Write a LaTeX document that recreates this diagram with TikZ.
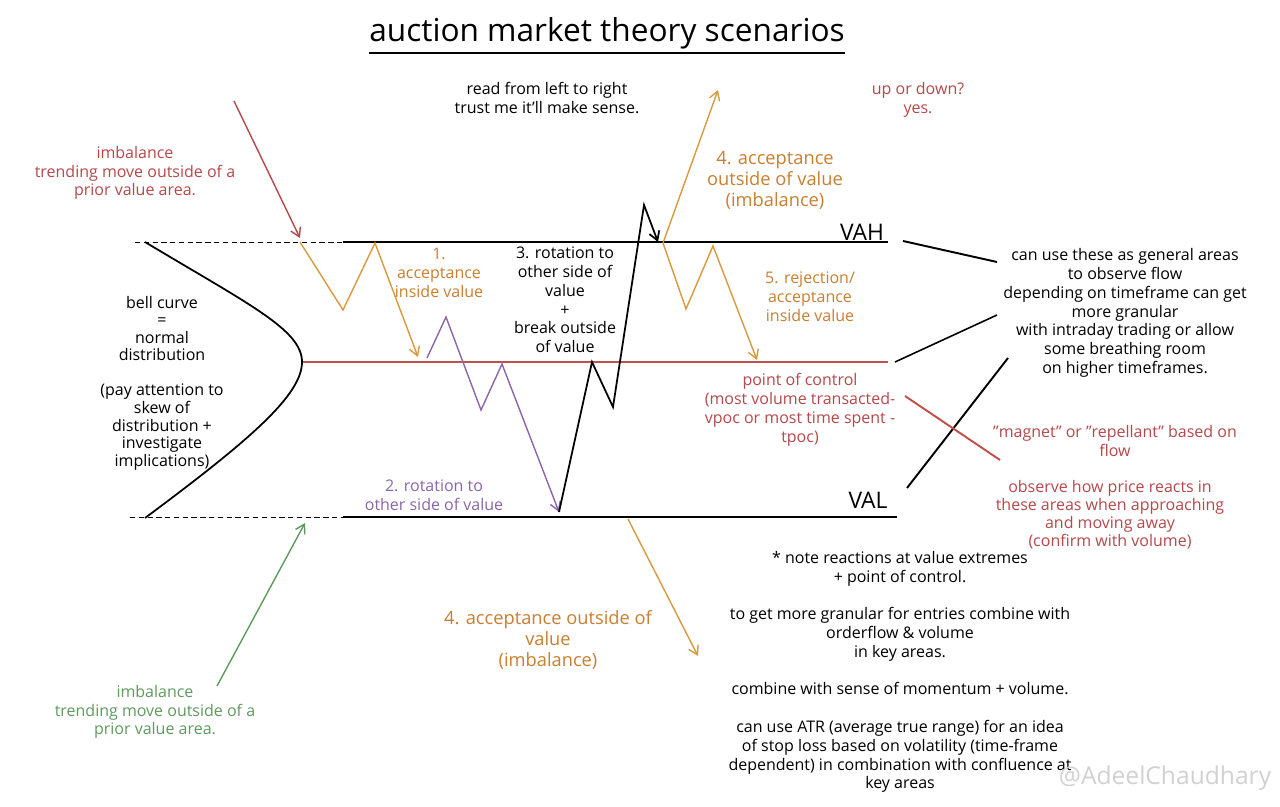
\documentclass[tikz,border=0pt]{standalone}
\usepackage{fontspec}
\setmainfont{Open Sans}
\usetikzlibrary{arrows.meta}
\definecolor{amtorange}{HTML}{D99A3E}
\definecolor{amtorangetxt}{HTML}{C97E30}
\definecolor{amtred}{HTML}{B5484A}
\definecolor{amtredline}{HTML}{C2504A}
\definecolor{amtpurple}{HTML}{8A66A8}
\definecolor{amtgreen}{HTML}{5E9A5E}
\tikzset{txt/.style={align=center,inner sep=0pt,font=\fontsize{9.1}{10.7}\selectfont},
	bigtxt/.style={align=center,inner sep=0pt,font=\fontsize{10.4}{12}\selectfont},
	arr/.style={-{Straight Barb[length=5pt,width=6pt]}},
	level/.style={line width=1.1pt},
	zig/.style={line width=0.8pt}}

\begin{document}
\begin{tikzpicture}[x=0.02cm,y=-0.02cm]
	\useasboundingbox (0,0) rectangle (1280,807);

	% title
	\node[inner sep=0pt,font=\fontsize{18}{21}\selectfont] (title) at (607,33) {auction market theory scenarios};
	\draw[line width=1.2pt] ([yshift=-2pt]title.south west) -- ([yshift=-2pt]title.south east);

	% value area levels
	\coordinate (vahL) at (135,242);
	\coordinate (vahM) at (343,242);
	\coordinate (vahR) at (888,242);
	\coordinate (valL) at (130,517);
	\coordinate (valM) at (343,517);
	\coordinate (valR) at (897,517);
	\coordinate (pocL) at (302,362);
	\coordinate (pocR) at (888,362);
	\coordinate (bellT) at (145,242);
	\coordinate (bellB) at (145,518);

	\draw[dash pattern=on 3pt off 2pt] (vahL) -- (vahM);
	\draw[level] (vahM) -- (vahR);
	\draw[dash pattern=on 3pt off 2pt] (valL) -- (valM);
	\draw[level] (valM) -- (valR);
	\draw[level,amtredline] (pocL) -- (pocR);
	\draw[line width=1pt] (bellT) .. controls (250,305) and (302,330) .. (pocL)
		.. controls (302,395) and (250,440) .. (bellB);

	\node[inner sep=0pt,font=\fontsize{13}{15}\selectfont] (vah) at (862,232) {VAH};
	\node[inner sep=0pt,font=\fontsize{13}{15}\selectfont] (val) at (868,500) {VAL};

	% price path
	\coordinate (a1) at (300,242);
	\coordinate (a2) at (343,310);
	\coordinate (a3) at (375,243);
	\coordinate (a4) at (418,357);
	\coordinate (p1) at (427,358);
	\coordinate (p2) at (446,317);
	\coordinate (p3) at (481,410);
	\coordinate (p4) at (502,364);
	\coordinate (p5) at (559,512);
	\coordinate (b2) at (592,362);
	\coordinate (b3) at (613,407);
	\coordinate (b4) at (644,205);
	\coordinate (b5) at (658,242);
	\coordinate (u1) at (663,243);
	\coordinate (u2) at (718,90);
	\coordinate (r2) at (686,309);
	\coordinate (r3) at (713,246);
	\coordinate (r4) at (757,360);
	\coordinate (d1) at (628,519);
	\coordinate (d2) at (698,656);

	\draw[zig,amtorange,arr] (a1) -- (a2) -- (a3) -- (a4);
	\draw[zig,amtpurple,arr] (p1) -- (p2) -- (p3) -- (p4) -- (p5);
	\draw[line width=1pt,arr] (p5) -- (b2) -- (b3) -- (b4) -- (b5);
	\draw[zig,amtorange,arr] (u1) -- (u2);
	\draw[zig,amtorange,arr] (u1) -- (r2) -- (r3) -- (r4);
	\draw[zig,amtorange,arr] (d1) -- (d2);

	% imbalance arrows
	\coordinate (ra) at (234,101);
	\coordinate (rb) at (300,238);
	\coordinate (ga) at (217,686);
	\coordinate (gb) at (305,523);
	\draw[zig,amtred,arr] (ra) -- (rb);
	\draw[zig,amtgreen,arr] (ga) -- (gb);

	% pointers on the right
	\coordinate (k1) at (903,241);
	\coordinate (k2) at (997,262);
	\coordinate (k3) at (895,362);
	\coordinate (k4) at (997,315);
	\coordinate (k5) at (907,488);
	\coordinate (k6) at (1008,358);
	\coordinate (k7) at (905,396);
	\coordinate (k8) at (1000,460);
	\draw[level] (k1) -- (k2);
	\draw[line width=0.9pt] (k3) -- (k4);
	\draw[level] (k5) -- (k6);
	\draw[level,amtredline] (k7) -- (k8);

	% labels
	\node[txt] (read) at (547,98) {read from left to right\\trust me it'll make sense.};
	\node[txt,amtred] (updown) at (918,100) {up or down?\\yes.};
	\node[txt,amtred] (imbtop) at (135,173) {imbalance\\trending move outside of a\\prior value area.};
	\node[txt,amtgreen] (imbbot) at (155,712) {imbalance\\trending move outside of a\\prior value area.};
	\node[txt,amtorangetxt] (acc1) at (439,273) {1.\\acceptance\\inside value};
	\node[txt] (rot3) at (565,300) {3. rotation to\\other side of\\value\\+\\break outside\\of value};
	\node[txt,amtorangetxt] (rej5) at (810,297) {5. rejection/\\acceptance\\inside value};
	\node[bigtxt,amtorangetxt] (acc4up) at (775,180) {4. acceptance\\outside of value\\(imbalance)};
	\node[txt,amtred] (poc) at (800,410) {point of control\\(most volume transacted-\\vpoc or most time spent -\\tpoc)};
	\node[txt,amtpurple] (rot2) at (434,495) {2. rotation to\\other side of value};
	\node[txt,font=\fontsize{9.1}{10}\selectfont] (bell) at (162,383) {bell curve\\=\\normal\\distribution\\[10pt](pay attention to\\skew of\\distribution +\\investigate\\implications)};
	\node[txt] (flow) at (1125,313) {can use these as general areas\\to observe flow\\depending on timeframe can get\\more granular\\with intraday trading or allow\\some breathing room\\on higher timeframes.};
	\node[txt,amtred] (magnet) at (1115,441) {\symbol{34}magnet\symbol{34} or \symbol{34}repellant\symbol{34} based on\\flow};
	\node[txt,amtred,font=\fontsize{9.1}{10.2}\selectfont] (react) at (1110,515) {observe how price reacts in\\these areas when approaching\\and moving away\\(confirm with volume)};
	\node[txt] (notes) at (900,672) {* note reactions at value extremes\\+ point of control.\\[10.7pt]to get more granular for entries combine with\\orderflow \& volume\\in key areas.\\[10.7pt]combine with sense of momentum + volume.\\[10.7pt]can use ATR (average true range) for an idea\\of stop loss based on volatility (time-frame\\dependent) in combination with confluence at\\key areas};
	\node[bigtxt,amtorangetxt] (acc4down) at (548,640) {4. acceptance outside of\\value\\(imbalance)};
	\node[inner sep=0pt,black!18,font=\fontsize{14}{16}\selectfont] (mark) at (1165,778) {@AdeelChaudhary};
\end{tikzpicture}
\end{document}
